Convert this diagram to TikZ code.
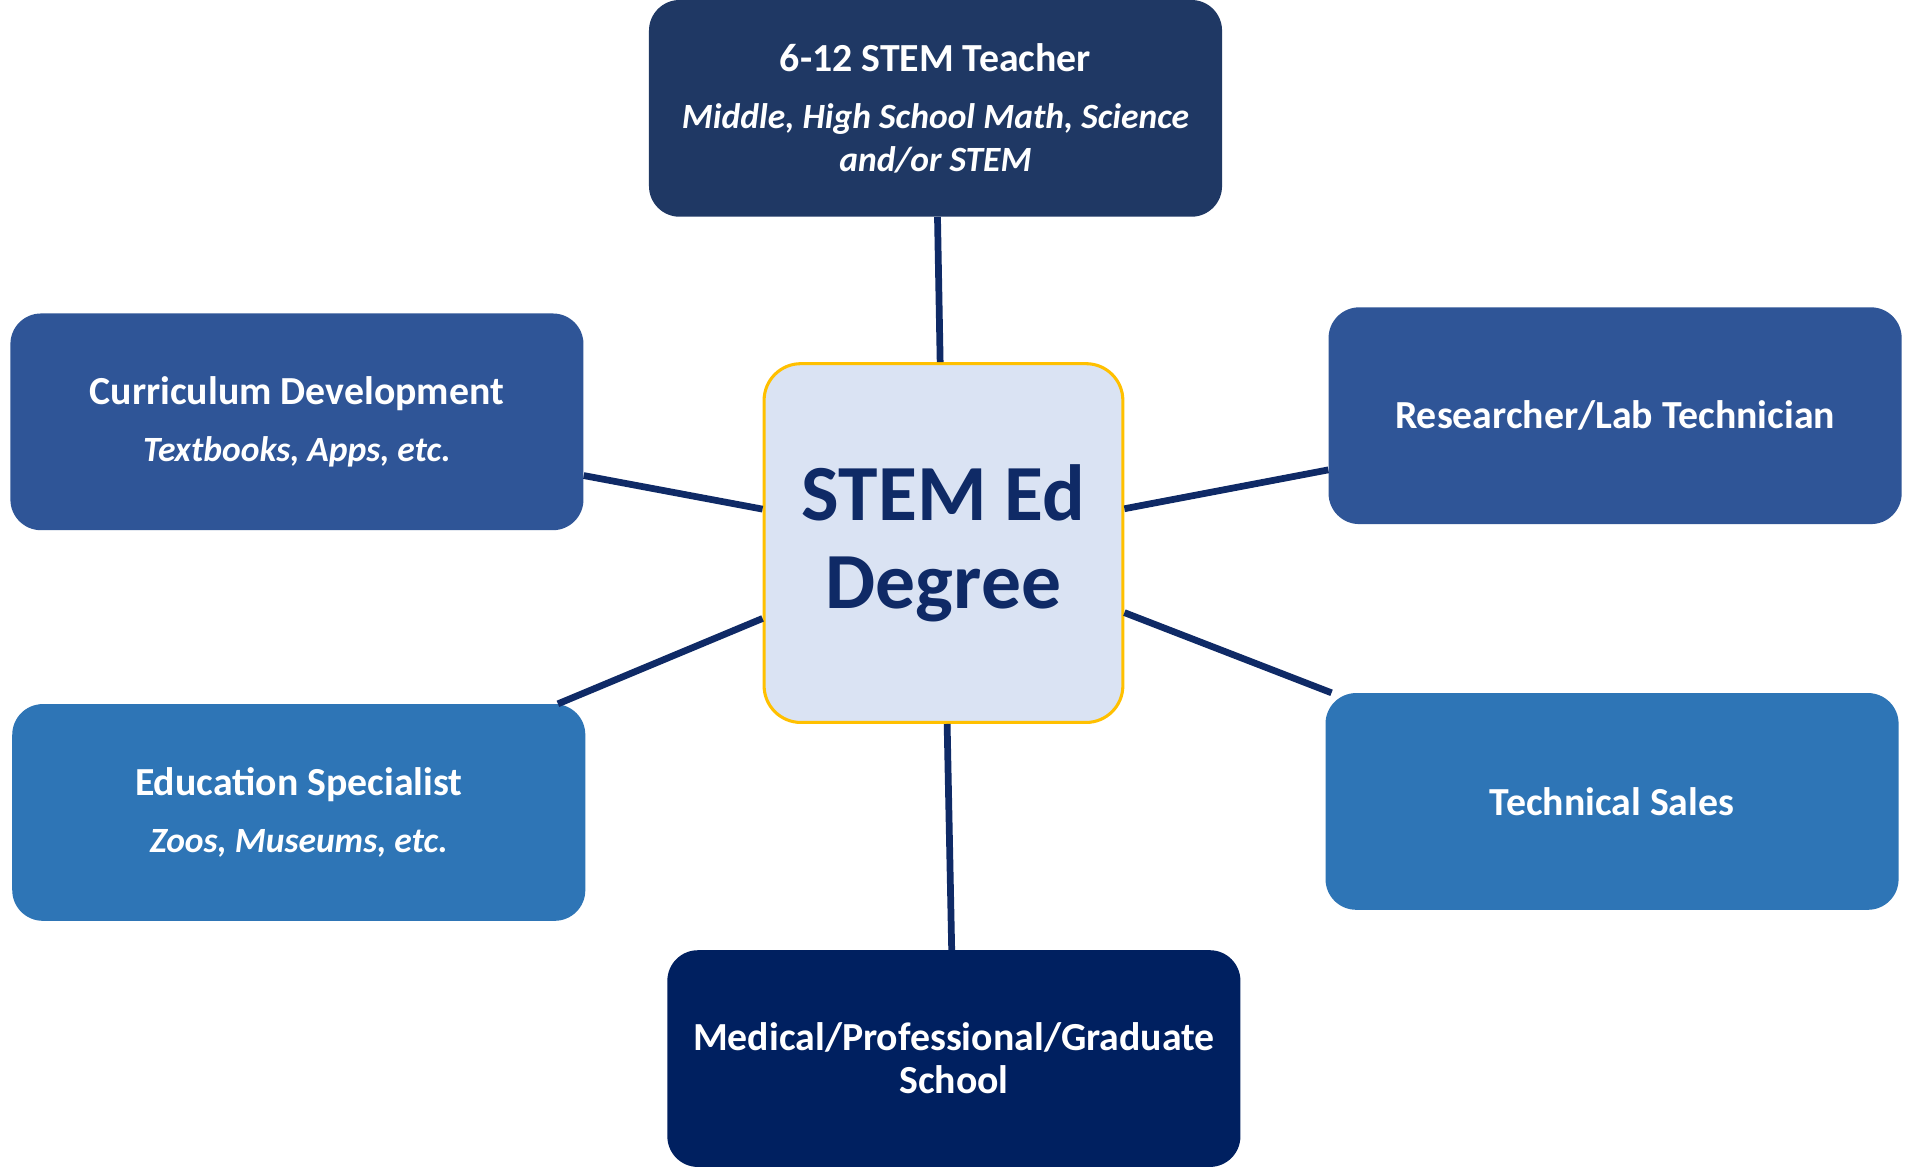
\documentclass[tikz,border=0pt]{standalone}
\usepackage{fontspec}
\setmainfont{Carlito}
\definecolor{navy}{HTML}{1F3864}
\definecolor{midblue}{HTML}{2F5597}
\definecolor{lightblue}{HTML}{2E75B6}
\definecolor{deepnavy}{HTML}{002060}
\definecolor{paleblue}{HTML}{DAE3F3}
\definecolor{gold}{HTML}{FFC000}
\definecolor{linkblue}{HTML}{0F2A66}
\newcommand{\subfont}{\itshape\fontsize{29}{30}\selectfont}

\begin{document}
\begin{tikzpicture}[x=1pt,y=-1pt,
    career/.style={rectangle, rounded corners=25pt, minimum width=468pt, minimum height=177pt,
      text=white, align=center, inner sep=0pt,
      font=\bfseries\fontsize{32.5}{35}\selectfont},
    hub/.style={rectangle, rounded corners=30pt, minimum width=293pt, minimum height=293pt,
      fill=paleblue, draw=gold, line width=2.5pt, text=linkblue, align=center,
      font=\bfseries\fontsize{65}{72}\selectfont},
    link/.style={draw=linkblue, line width=5.5pt}]
  \useasboundingbox (0,0) rectangle (1568,960);
  \fill[white] (0,0) rectangle (1568,960);

  \node[hub] (degree) at (770.5,443.5) {STEM Ed\\Degree};

  \node[career, fill=navy] (teacher) at (764,88.5)
    {6-12 STEM Teacher\\[12pt]\subfont Middle, High School Math, Science\\\subfont and/or STEM};
  \node[career, fill=midblue] (curric) at (242.5,344.5)
    {Curriculum Development\\[12pt]\subfont Textbooks, Apps, etc.};
  \node[career, fill=midblue] (research) at (1319,339.5) {Researcher/Lab Technician};
  \node[career, fill=lightblue] (edu) at (244,663.5)
    {Education Specialist\\[12pt]\subfont Zoos, Museums, etc.};
  \node[career, fill=lightblue] (sales) at (1316.5,654.5) {Technical Sales};
  \node[career, fill=deepnavy] (school) at (779,864.5) {Medical/Professional/Graduate\\School};

  \path[link] (degree) -- (teacher);
  \path[link] (degree) -- (curric);
  \path[link] (degree) -- (research);
  \path[link] (degree) -- (edu);
  \path[link] (degree) -- (sales);
  \path[link] (degree) -- (school);
\end{tikzpicture}
\end{document}
